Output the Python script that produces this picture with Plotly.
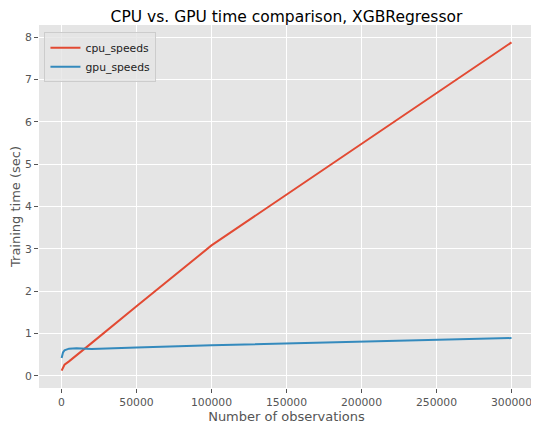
import plotly.graph_objects as go

n_obs = [100, 1000, 2000, 5000, 10000, 20000, 50000, 100000, 300000]
cpu_speeds = [0.12, 0.20, 0.26, 0.34, 0.48, 0.77, 1.64, 3.08, 7.88]
gpu_speeds = [0.42, 0.55, 0.60, 0.64, 0.65, 0.63, 0.67, 0.72, 0.89]
x_ticks = [0, 50000, 100000, 150000, 200000, 250000, 300000]

fig = go.Figure()
fig.add_trace(go.Scatter(x=n_obs, y=cpu_speeds, mode="lines", name="cpu_speeds",
                         line=dict(color="#E24A33", width=2)))
fig.add_trace(go.Scatter(x=n_obs, y=gpu_speeds, mode="lines", name="gpu_speeds",
                         line=dict(color="#348ABD", width=2)))

font_family = "DejaVu Sans"
# page body has an 8px margin, so the figure is sized to fit inside the window
W, H = 531, 420
L, R, T, B = 31, 5, 17, 40
fig.update_layout(
    width=W, height=H,
    margin=dict(l=L, r=R, t=T, b=B, autoexpand=False),
    paper_bgcolor="white", plot_bgcolor="#E5E5E5",
    font=dict(family=font_family, color="#555555", size=10.8),
    title=dict(text="CPU vs. GPU time comparison, XGBRegressor",
               font=dict(size=15.5, color="black", family=font_family),
               x=(L + (W - L - R) / 2) / W, xanchor="center", y=1 - 8.5 / H, yanchor="middle"),
    showlegend=True,
    legend=dict(x=0.011, y=0.98, xanchor="left", yanchor="top",
                bgcolor="rgba(229,229,229,0.8)", bordercolor="#CCCCCC", borderwidth=1,
                font=dict(size=10.8, color="#222222"), tracegroupgap=2),
    xaxis=dict(title=dict(text="Number of observations", font=dict(size=13, color="#555555"), standoff=1),
               automargin=False,
               range=[-15000, 315000], tickvals=x_ticks,
               tickformat="d", showgrid=True, gridcolor="white", gridwidth=1, zeroline=False,
               ticks="outside", ticklen=4, tickcolor="#555555", showline=False,
               tickfont=dict(size=10.8, color="#555555")),
    yaxis=dict(title=dict(text="Training time (sec)", font=dict(size=13, color="#555555"), standoff=6),
               automargin=False,
               range=[-0.29, 8.29], dtick=1, tick0=0,
               showgrid=True, gridcolor="white", gridwidth=1, zeroline=False,
               ticks="outside", ticklen=4, tickcolor="#555555", showline=False,
               tickfont=dict(size=10.8, color="#555555")),
)

fig.write_html("out.html")
